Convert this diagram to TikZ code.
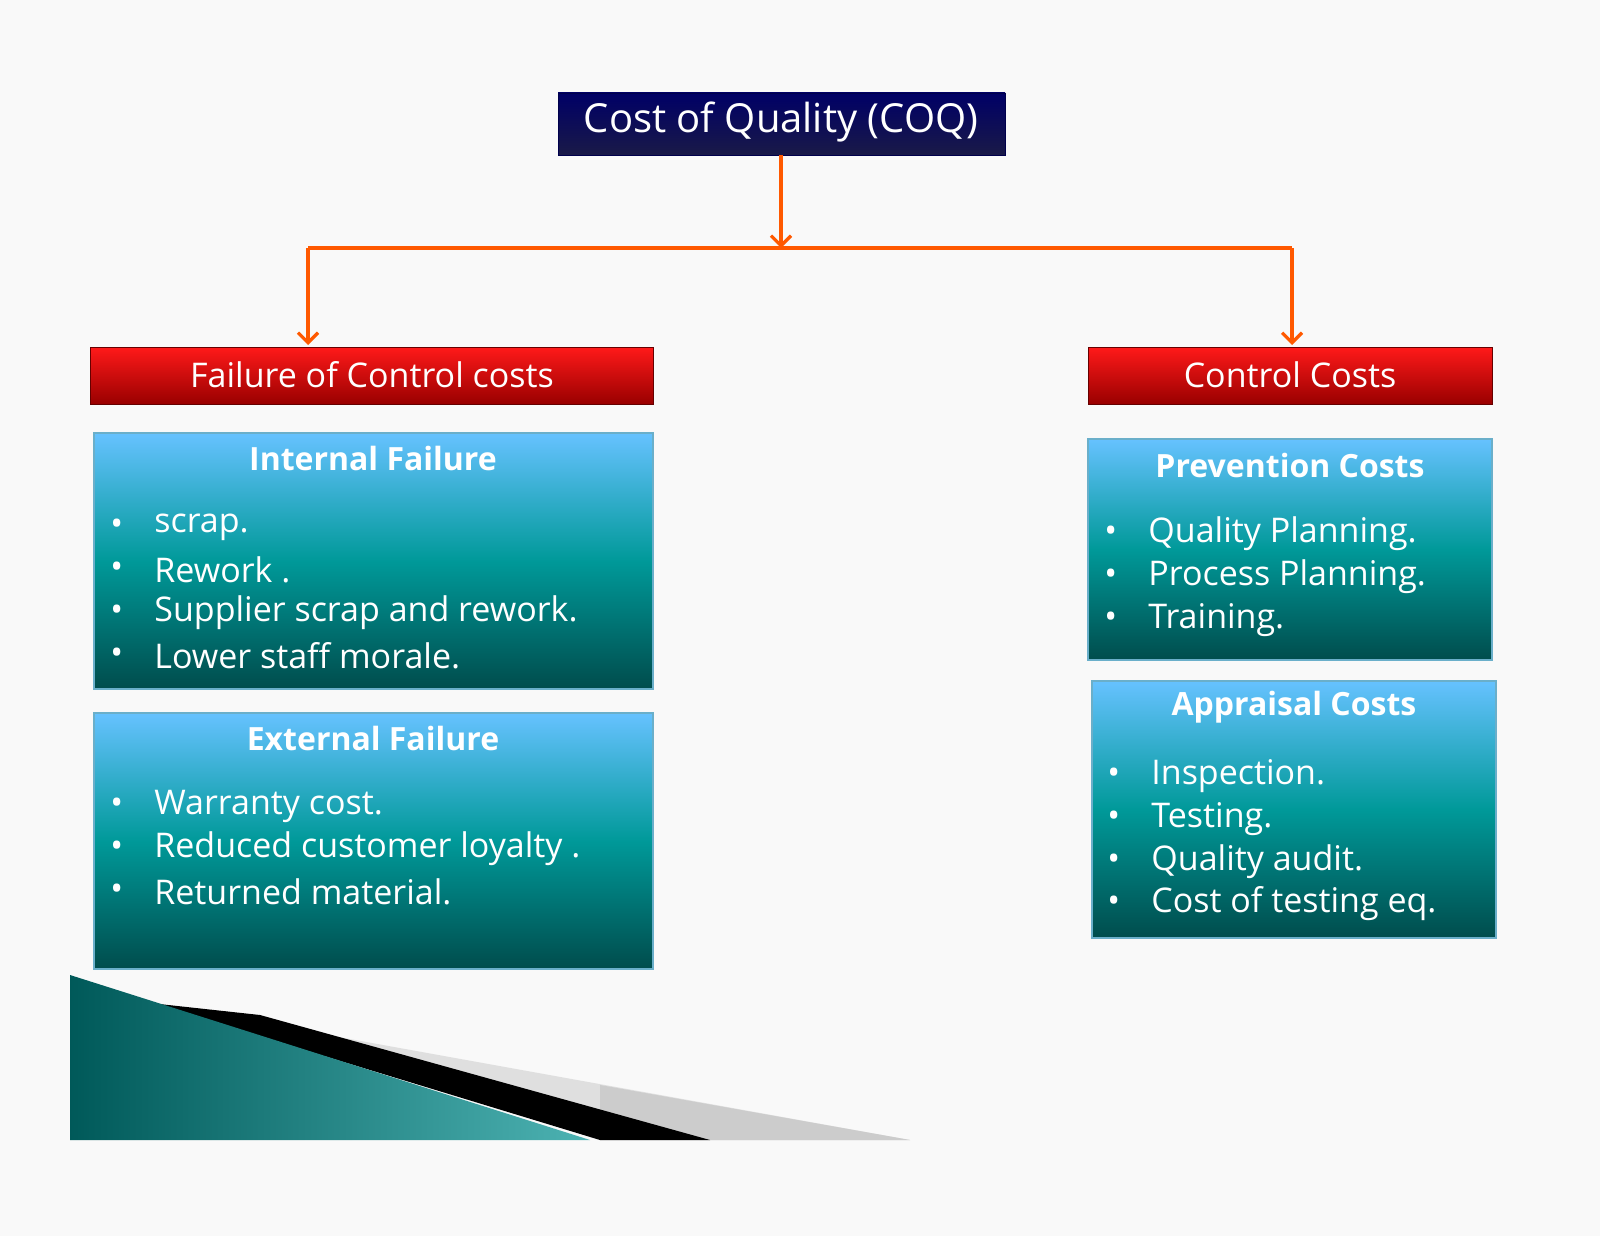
\documentclass[tikz,border=0pt]{standalone}
\usepackage{fontspec}
\setmainfont{Open Sans}
\begin{document}
\begin{tikzpicture}[x=0.5pt,y=-0.5pt,
  bluebox/.style={draw=cyan!40!teal!70,line width=1pt,top color=cyan!60!blue!60!white,bottom color=teal!60!black,middle color=teal!80!cyan},
  redbox/.style={draw=red!40!black,top color=red!90!white,bottom color=red!60!black},
  txt/.style={text=white,font=\fontsize{17}{20}\selectfont,anchor=west,inner sep=0},
  ttl/.style={text=white,font=\bfseries\fontsize{16}{19}\selectfont,inner sep=0},
  arr/.style={draw=orange!70!red,line width=1.6pt,->,>={Straight Barb[length=5pt]}}]
\usetikzlibrary{arrows.meta}
\fill[gray!5] (0,0) rectangle (1600,1236);
\useasboundingbox (0,0) rectangle (1600,1236);
% title
\shade[top color=blue!40!black,bottom color=blue!20!black!90,draw=blue!30!black] (558,93) rectangle (1005,155);
\node[text=white,font=\fontsize{20}{24}\selectfont] (coq) at (781,122) {Cost of Quality (COQ)};
\coordinate (cb) at (781,155);
\coordinate (mid) at (781,248);
\coordinate (jl) at (308,248);
\coordinate (jr) at (1292,248);
\coordinate (al) at (308,345);
\coordinate (ar) at (1292,345);
\draw[arr] (cb) -- (mid);
\draw[draw=orange!70!red,line width=1.6pt] (jl) -- (jr);
\draw[arr] (jl) -- (al);
\draw[arr] (jr) -- (ar);
% red boxes
\shade[redbox] (90,347) rectangle (653,404);
\node[text=white,font=\fontsize{17}{20}\selectfont] (fcc) at (372,375) {Failure of Control costs};
\shade[redbox] (1088,347) rectangle (1492,404);
\node[text=white,font=\fontsize{17}{20}\selectfont] (cc) at (1290,375) {Control Costs};
% blue boxes
\shade[bluebox] (94,433) rectangle (653,689);
\shade[bluebox] (94,713) rectangle (653,969);
\shade[bluebox] (1088,439) rectangle (1492,660);
\shade[bluebox] (1092,681) rectangle (1496,938);
\newcommand{\bl}[4]{\node[txt] at (#1,#3) {•}; \node[txt] at (#2,#3) {#4};}
\node[ttl] (inf) at (373,458) {Internal Failure};
\bl{110}{154}{527}{scrap.}
\bl{110}{154}{570}{Rework .}
\bl{110}{154}{613}{Supplier scrap and rework.}
\bl{110}{154}{656}{Lower staff morale.}
\node[ttl] (exf) at (373,738) {External Failure};
\bl{110}{154}{806}{Warranty cost.}
\bl{110}{154}{849}{Reduced customer loyalty .}
\bl{110}{154}{892}{Returned material.}
\node[ttl] (pc) at (1290,465) {Prevention Costs};
\bl{1104}{1148}{534}{Quality Planning.}
\bl{1104}{1148}{577}{Process Planning.}
\bl{1104}{1148}{620}{Training.}
\node[ttl] (ac) at (1294,707) {Appraisal Costs};
\bl{1107}{1151}{776}{Inspection.}
\bl{1107}{1151}{819}{Testing.}
\bl{1107}{1151}{862}{Quality audit.}
\bl{1107}{1151}{904}{Cost of testing eq.}
% bottom decoration
\fill[gray!25] (150,1003) -- (910,1140) -- (700,1140) -- cycle;
\fill[gray!40] (600,1085) -- (910,1140) -- (600,1140) -- cycle;
\fill[black] (150,1003) -- (260,1015) -- (710,1140) -- (600,1140) -- cycle;
\shade[left color=teal!70!black,right color=cyan!40!gray] (70,975) -- (590,1140) -- (70,1140) -- cycle;
\end{tikzpicture}
\end{document}
